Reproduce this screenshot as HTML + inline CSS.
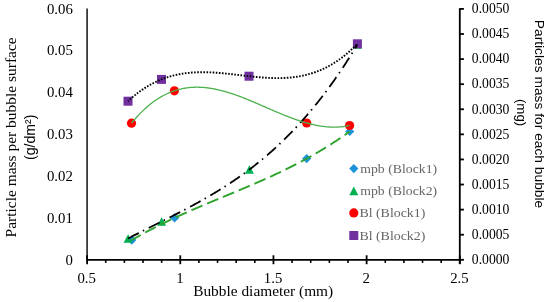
<!DOCTYPE html>
<html><head><meta charset="utf-8"><style>
html,body{margin:0;padding:0;background:#fff;}
body{width:550px;height:302px;overflow:hidden;}
svg{display:block;}
</style></head><body>
<svg width="550" height="302" viewBox="0 0 550 302">
<rect width="550" height="302" fill="#fff"/>
<line x1="86.19999999999999" y1="259.8" x2="460.7" y2="259.8" stroke="#000" stroke-width="1.8"/>
<line x1="87.1" y1="8.6" x2="87.1" y2="259.8" stroke="#3a3a3a" stroke-width="1.8"/>
<line x1="459.8" y1="8.3" x2="459.8" y2="264.1" stroke="#000" stroke-width="1.8"/>
<line x1="87.10" y1="255.3" x2="87.10" y2="264.2" stroke="#000" stroke-width="1.8"/>
<line x1="180.28" y1="255.3" x2="180.28" y2="264.2" stroke="#000" stroke-width="1.8"/>
<line x1="273.45" y1="255.3" x2="273.45" y2="264.2" stroke="#000" stroke-width="1.8"/>
<line x1="366.62" y1="255.3" x2="366.62" y2="264.2" stroke="#000" stroke-width="1.8"/>
<line x1="459.80" y1="255.3" x2="459.80" y2="264.2" stroke="#000" stroke-width="1.8"/>
<line x1="105.73" y1="259.8" x2="105.73" y2="262.90000000000003" stroke="#000" stroke-width="1.6"/>
<line x1="124.37" y1="259.8" x2="124.37" y2="262.90000000000003" stroke="#000" stroke-width="1.6"/>
<line x1="143.00" y1="259.8" x2="143.00" y2="262.90000000000003" stroke="#000" stroke-width="1.6"/>
<line x1="161.64" y1="259.8" x2="161.64" y2="262.90000000000003" stroke="#000" stroke-width="1.6"/>
<line x1="198.91" y1="259.8" x2="198.91" y2="262.90000000000003" stroke="#000" stroke-width="1.6"/>
<line x1="217.55" y1="259.8" x2="217.55" y2="262.90000000000003" stroke="#000" stroke-width="1.6"/>
<line x1="236.18" y1="259.8" x2="236.18" y2="262.90000000000003" stroke="#000" stroke-width="1.6"/>
<line x1="254.81" y1="259.8" x2="254.81" y2="262.90000000000003" stroke="#000" stroke-width="1.6"/>
<line x1="292.09" y1="259.8" x2="292.09" y2="262.90000000000003" stroke="#000" stroke-width="1.6"/>
<line x1="310.72" y1="259.8" x2="310.72" y2="262.90000000000003" stroke="#000" stroke-width="1.6"/>
<line x1="329.36" y1="259.8" x2="329.36" y2="262.90000000000003" stroke="#000" stroke-width="1.6"/>
<line x1="347.99" y1="259.8" x2="347.99" y2="262.90000000000003" stroke="#000" stroke-width="1.6"/>
<line x1="385.26" y1="259.8" x2="385.26" y2="262.90000000000003" stroke="#000" stroke-width="1.6"/>
<line x1="403.90" y1="259.8" x2="403.90" y2="262.90000000000003" stroke="#000" stroke-width="1.6"/>
<line x1="422.53" y1="259.8" x2="422.53" y2="262.90000000000003" stroke="#000" stroke-width="1.6"/>
<line x1="441.17" y1="259.8" x2="441.17" y2="262.90000000000003" stroke="#000" stroke-width="1.6"/>
<line x1="459.8" y1="259.80" x2="463.90000000000003" y2="259.80" stroke="#000" stroke-width="1.8"/>
<line x1="459.8" y1="234.71" x2="463.90000000000003" y2="234.71" stroke="#000" stroke-width="1.8"/>
<line x1="459.8" y1="209.62" x2="463.90000000000003" y2="209.62" stroke="#000" stroke-width="1.8"/>
<line x1="459.8" y1="184.53" x2="463.90000000000003" y2="184.53" stroke="#000" stroke-width="1.8"/>
<line x1="459.8" y1="159.44" x2="463.90000000000003" y2="159.44" stroke="#000" stroke-width="1.8"/>
<line x1="459.8" y1="134.35" x2="463.90000000000003" y2="134.35" stroke="#000" stroke-width="1.8"/>
<line x1="459.8" y1="109.26" x2="463.90000000000003" y2="109.26" stroke="#000" stroke-width="1.8"/>
<line x1="459.8" y1="84.17" x2="463.90000000000003" y2="84.17" stroke="#000" stroke-width="1.8"/>
<line x1="459.8" y1="59.08" x2="463.90000000000003" y2="59.08" stroke="#000" stroke-width="1.8"/>
<line x1="459.8" y1="33.99" x2="463.90000000000003" y2="33.99" stroke="#000" stroke-width="1.8"/>
<line x1="459.8" y1="8.90" x2="463.90000000000003" y2="8.90" stroke="#000" stroke-width="1.8"/>
<text x="72.8" y="264.50" font-family="Liberation Serif, Times New Roman, serif" font-size="14.8" text-anchor="end" fill="#000">0</text>
<text x="72.8" y="222.68" font-family="Liberation Serif, Times New Roman, serif" font-size="14.8" text-anchor="end" fill="#000">0.01</text>
<text x="72.8" y="180.87" font-family="Liberation Serif, Times New Roman, serif" font-size="14.8" text-anchor="end" fill="#000">0.02</text>
<text x="72.8" y="139.05" font-family="Liberation Serif, Times New Roman, serif" font-size="14.8" text-anchor="end" fill="#000">0.03</text>
<text x="72.8" y="97.23" font-family="Liberation Serif, Times New Roman, serif" font-size="14.8" text-anchor="end" fill="#000">0.04</text>
<text x="72.8" y="55.42" font-family="Liberation Serif, Times New Roman, serif" font-size="14.8" text-anchor="end" fill="#000">0.05</text>
<text x="72.8" y="13.60" font-family="Liberation Serif, Times New Roman, serif" font-size="14.8" text-anchor="end" fill="#000">0.06</text>
<text x="471.8" y="264.10" font-family="Liberation Serif, Times New Roman, serif" font-size="14.3" textLength="37.6" lengthAdjust="spacingAndGlyphs" fill="#000">0.0000</text>
<text x="471.8" y="239.01" font-family="Liberation Serif, Times New Roman, serif" font-size="14.3" textLength="37.6" lengthAdjust="spacingAndGlyphs" fill="#000">0.0005</text>
<text x="471.8" y="213.92" font-family="Liberation Serif, Times New Roman, serif" font-size="14.3" textLength="37.6" lengthAdjust="spacingAndGlyphs" fill="#000">0.0010</text>
<text x="471.8" y="188.83" font-family="Liberation Serif, Times New Roman, serif" font-size="14.3" textLength="37.6" lengthAdjust="spacingAndGlyphs" fill="#000">0.0015</text>
<text x="471.8" y="163.74" font-family="Liberation Serif, Times New Roman, serif" font-size="14.3" textLength="37.6" lengthAdjust="spacingAndGlyphs" fill="#000">0.0020</text>
<text x="471.8" y="138.65" font-family="Liberation Serif, Times New Roman, serif" font-size="14.3" textLength="37.6" lengthAdjust="spacingAndGlyphs" fill="#000">0.0025</text>
<text x="471.8" y="113.56" font-family="Liberation Serif, Times New Roman, serif" font-size="14.3" textLength="37.6" lengthAdjust="spacingAndGlyphs" fill="#000">0.0030</text>
<text x="471.8" y="88.47" font-family="Liberation Serif, Times New Roman, serif" font-size="14.3" textLength="37.6" lengthAdjust="spacingAndGlyphs" fill="#000">0.0035</text>
<text x="471.8" y="63.38" font-family="Liberation Serif, Times New Roman, serif" font-size="14.3" textLength="37.6" lengthAdjust="spacingAndGlyphs" fill="#000">0.0040</text>
<text x="471.8" y="38.29" font-family="Liberation Serif, Times New Roman, serif" font-size="14.3" textLength="37.6" lengthAdjust="spacingAndGlyphs" fill="#000">0.0045</text>
<text x="471.8" y="13.20" font-family="Liberation Serif, Times New Roman, serif" font-size="14.3" textLength="37.6" lengthAdjust="spacingAndGlyphs" fill="#000">0.0050</text>
<text x="86.70" y="282.6" font-family="Liberation Serif, Times New Roman, serif" font-size="14.8" text-anchor="middle" fill="#000">0.5</text>
<text x="179.88" y="282.6" font-family="Liberation Serif, Times New Roman, serif" font-size="14.8" text-anchor="middle" fill="#000">1</text>
<text x="273.05" y="282.6" font-family="Liberation Serif, Times New Roman, serif" font-size="14.8" text-anchor="middle" fill="#000">1.5</text>
<text x="366.23" y="282.6" font-family="Liberation Serif, Times New Roman, serif" font-size="14.8" text-anchor="middle" fill="#000">2</text>
<text x="459.40" y="282.6" font-family="Liberation Serif, Times New Roman, serif" font-size="14.8" text-anchor="middle" fill="#000">2.5</text>
<text x="193.2" y="295.6" font-family="Liberation Serif, Times New Roman, serif" font-size="15.2" textLength="140" lengthAdjust="spacingAndGlyphs" fill="#000">Bubble diameter (mm)</text>
<text transform="translate(16.0,137.4) rotate(-90)" x="0" y="0" font-family="Liberation Serif, Times New Roman, serif" font-size="15.4" text-anchor="middle" textLength="200" lengthAdjust="spacingAndGlyphs" fill="#000">Particle mass per bubble surface</text>
<text transform="translate(34.6,137.3) rotate(-90)" x="0" y="0" font-family="Liberation Sans, Arial, sans-serif" font-size="13.8" text-anchor="middle" textLength="45.5" lengthAdjust="spacingAndGlyphs" fill="#000">(g/dm²)</text>
<text transform="translate(535.3,114) rotate(90)" x="0" y="0" font-family="Liberation Sans, Arial, sans-serif" font-size="13.4" text-anchor="middle" textLength="188.5" lengthAdjust="spacingAndGlyphs" fill="#000">Particles mass for each bubble</text>
<text transform="translate(516.8,112.6) rotate(90)" x="0" y="0" font-family="Liberation Sans, Arial, sans-serif" font-size="13.3" text-anchor="middle" fill="#000">(mg)</text>
<path d="M127.20,240.10 L131.80,235.50 L136.40,240.10 L131.80,244.70 Z" fill="#1e93d9"/>
<path d="M170.00,217.90 L174.60,213.30 L179.20,217.90 L174.60,222.50 Z" fill="#1e93d9"/>
<path d="M302.10,158.60 L306.70,154.00 L311.30,158.60 L306.70,163.20 Z" fill="#1e93d9"/>
<path d="M345.10,131.50 L349.70,126.90 L354.30,131.50 L349.70,136.10 Z" fill="#1e93d9"/>
<path d="M128.10,234.20 L132.60,242.80 L123.60,242.80 Z" fill="#00b050"/>
<path d="M161.60,217.20 L166.10,225.80 L157.10,225.80 Z" fill="#00b050"/>
<path d="M249.40,165.20 L253.90,173.80 L244.90,173.80 Z" fill="#00b050"/>
<path d="M357.40,40.20 L361.90,48.80 L352.90,48.80 Z" fill="#00b050"/>
<circle cx="131.50" cy="123.20" r="4.6" fill="#ff0000"/>
<circle cx="174.40" cy="90.80" r="4.6" fill="#ff0000"/>
<circle cx="306.70" cy="123.00" r="4.6" fill="#ff0000"/>
<circle cx="349.60" cy="125.50" r="4.6" fill="#ff0000"/>
<rect x="123.50" y="96.70" width="9.0" height="9.0" fill="#7030a0"/>
<rect x="157.00" y="74.90" width="9.0" height="9.0" fill="#7030a0"/>
<rect x="244.50" y="71.70" width="9.0" height="9.0" fill="#7030a0"/>
<rect x="352.90" y="39.30" width="9.0" height="9.0" fill="#7030a0"/>
<path d="M131.80,240.10 L132.80,239.52 L133.80,238.94 L134.80,238.36 L135.80,237.79 L136.80,237.22 L137.80,236.65 L138.80,236.09 L139.80,235.53 L140.80,234.98 L141.80,234.43 L142.80,233.88 L143.80,233.33 L144.80,232.79 L145.80,232.25 L146.80,231.71 L147.80,231.18 L148.80,230.65 L149.80,230.12 L150.80,229.60 L151.80,229.08 L152.80,228.56 L153.80,228.05 L154.80,227.53 L155.80,227.02 L156.80,226.52 L157.80,226.01 L158.80,225.51 L159.80,225.01 L160.80,224.51 L161.80,224.02 L162.80,223.53 L163.80,223.04 L164.80,222.55 L165.80,222.07 L166.80,221.59 L167.80,221.11 L168.80,220.63 L169.80,220.15 L170.80,219.68 L171.80,219.21 L172.80,218.74 L173.80,218.27 L174.80,217.81 L175.80,217.34 L176.80,216.88 L177.80,216.42 L178.80,215.97 L179.80,215.51 L180.80,215.06 L181.80,214.61 L182.80,214.15 L183.80,213.71 L184.80,213.26 L185.80,212.81 L186.80,212.37 L187.80,211.93 L188.80,211.49 L189.80,211.05 L190.80,210.61 L191.80,210.17 L192.80,209.74 L193.80,209.30 L194.80,208.87 L195.80,208.44 L196.80,208.00 L197.80,207.58 L198.80,207.15 L199.80,206.72 L200.80,206.29 L201.80,205.87 L202.80,205.44 L203.80,205.02 L204.80,204.59 L205.80,204.17 L206.80,203.75 L207.80,203.33 L208.80,202.91 L209.80,202.49 L210.80,202.07 L211.80,201.65 L212.80,201.23 L213.80,200.82 L214.80,200.40 L215.80,199.98 L216.80,199.57 L217.80,199.15 L218.80,198.73 L219.80,198.32 L220.80,197.90 L221.80,197.49 L222.80,197.07 L223.80,196.66 L224.80,196.24 L225.80,195.83 L226.80,195.41 L227.80,195.00 L228.80,194.58 L229.80,194.17 L230.80,193.75 L231.80,193.33 L232.80,192.92 L233.80,192.50 L234.80,192.08 L235.80,191.67 L236.80,191.25 L237.80,190.83 L238.80,190.41 L239.80,189.99 L240.80,189.57 L241.80,189.15 L242.80,188.73 L243.80,188.31 L244.80,187.89 L245.80,187.46 L246.80,187.04 L247.80,186.61 L248.80,186.19 L249.80,185.76 L250.80,185.33 L251.80,184.90 L252.80,184.47 L253.80,184.04 L254.80,183.61 L255.80,183.17 L256.80,182.74 L257.80,182.30 L258.80,181.87 L259.80,181.43 L260.80,180.99 L261.80,180.54 L262.80,180.10 L263.80,179.66 L264.80,179.21 L265.80,178.76 L266.80,178.31 L267.80,177.86 L268.80,177.41 L269.80,176.95 L270.80,176.50 L271.80,176.04 L272.80,175.58 L273.80,175.12 L274.80,174.65 L275.80,174.19 L276.80,173.72 L277.80,173.25 L278.80,172.78 L279.80,172.30 L280.80,171.83 L281.80,171.35 L282.80,170.87 L283.80,170.38 L284.80,169.90 L285.80,169.41 L286.80,168.92 L287.80,168.43 L288.80,167.93 L289.80,167.43 L290.80,166.93 L291.80,166.43 L292.80,165.93 L293.80,165.42 L294.80,164.91 L295.80,164.39 L296.80,163.88 L297.80,163.36 L298.80,162.83 L299.80,162.31 L300.80,161.78 L301.80,161.25 L302.80,160.71 L303.80,160.18 L304.80,159.64 L305.80,159.09 L306.80,158.55 L307.80,157.99 L308.80,157.44 L309.80,156.88 L310.80,156.32 L311.80,155.76 L312.80,155.19 L313.80,154.62 L314.80,154.05 L315.80,153.47 L316.80,152.89 L317.80,152.30 L318.80,151.72 L319.80,151.12 L320.80,150.53 L321.80,149.93 L322.80,149.32 L323.80,148.72 L324.80,148.11 L325.80,147.49 L326.80,146.87 L327.80,146.25 L328.80,145.62 L329.80,144.99 L330.80,144.35 L331.80,143.71 L332.80,143.07 L333.80,142.42 L334.80,141.77 L335.80,141.11 L336.80,140.45 L337.80,139.78 L338.80,139.11 L339.80,138.44 L340.80,137.76 L341.80,137.07 L342.80,136.38 L343.80,135.69 L344.80,134.99 L345.80,134.29 L346.80,133.58 L347.80,132.87 L348.80,132.15 L349.70,131.50" fill="none" stroke="#2ea32e" stroke-width="1.9" stroke-dasharray="12 5.1" stroke-dashoffset="1.7"/>
<path d="M128.10,238.50 L129.10,237.98 L130.10,237.46 L131.10,236.94 L132.10,236.42 L133.10,235.90 L134.10,235.39 L135.10,234.88 L136.10,234.36 L137.10,233.85 L138.10,233.34 L139.10,232.83 L140.10,232.32 L141.10,231.81 L142.10,231.31 L143.10,230.80 L144.10,230.30 L145.10,229.79 L146.10,229.29 L147.10,228.78 L148.10,228.28 L149.10,227.78 L150.10,227.27 L151.10,226.77 L152.10,226.27 L153.10,225.77 L154.10,225.27 L155.10,224.76 L156.10,224.26 L157.10,223.76 L158.10,223.26 L159.10,222.76 L160.10,222.25 L161.10,221.75 L162.10,221.25 L163.10,220.75 L164.10,220.24 L165.10,219.74 L166.10,219.23 L167.10,218.73 L168.10,218.22 L169.10,217.71 L170.10,217.21 L171.10,216.70 L172.10,216.19 L173.10,215.68 L174.10,215.17 L175.10,214.66 L176.10,214.14 L177.10,213.63 L178.10,213.11 L179.10,212.59 L180.10,212.08 L181.10,211.56 L182.10,211.03 L183.10,210.51 L184.10,209.99 L185.10,209.46 L186.10,208.93 L187.10,208.40 L188.10,207.87 L189.10,207.34 L190.10,206.80 L191.10,206.26 L192.10,205.72 L193.10,205.18 L194.10,204.64 L195.10,204.09 L196.10,203.55 L197.10,202.99 L198.10,202.44 L199.10,201.89 L200.10,201.33 L201.10,200.77 L202.10,200.21 L203.10,199.64 L204.10,199.07 L205.10,198.50 L206.10,197.93 L207.10,197.35 L208.10,196.77 L209.10,196.19 L210.10,195.60 L211.10,195.01 L212.10,194.42 L213.10,193.82 L214.10,193.22 L215.10,192.62 L216.10,192.01 L217.10,191.40 L218.10,190.79 L219.10,190.18 L220.10,189.56 L221.10,188.93 L222.10,188.30 L223.10,187.67 L224.10,187.04 L225.10,186.40 L226.10,185.76 L227.10,185.11 L228.10,184.46 L229.10,183.80 L230.10,183.14 L231.10,182.48 L232.10,181.81 L233.10,181.14 L234.10,180.46 L235.10,179.78 L236.10,179.09 L237.10,178.40 L238.10,177.70 L239.10,177.00 L240.10,176.30 L241.10,175.59 L242.10,174.87 L243.10,174.15 L244.10,173.43 L245.10,172.70 L246.10,171.96 L247.10,171.22 L248.10,170.48 L249.10,169.73 L250.10,168.97 L251.10,168.21 L252.10,167.44 L253.10,166.67 L254.10,165.89 L255.10,165.11 L256.10,164.32 L257.10,163.52 L258.10,162.72 L259.10,161.91 L260.10,161.10 L261.10,160.28 L262.10,159.45 L263.10,158.62 L264.10,157.79 L265.10,156.94 L266.10,156.09 L267.10,155.24 L268.10,154.37 L269.10,153.50 L270.10,152.63 L271.10,151.75 L272.10,150.86 L273.10,149.96 L274.10,149.06 L275.10,148.15 L276.10,147.23 L277.10,146.31 L278.10,145.38 L279.10,144.44 L280.10,143.50 L281.10,142.55 L282.10,141.59 L283.10,140.62 L284.10,139.65 L285.10,138.67 L286.10,137.68 L287.10,136.69 L288.10,135.69 L289.10,134.68 L290.10,133.66 L291.10,132.63 L292.10,131.60 L293.10,130.56 L294.10,129.51 L295.10,128.45 L296.10,127.38 L297.10,126.31 L298.10,125.23 L299.10,124.14 L300.10,123.04 L301.10,121.94 L302.10,120.82 L303.10,119.70 L304.10,118.57 L305.10,117.43 L306.10,116.28 L307.10,115.12 L308.10,113.96 L309.10,112.78 L310.10,111.60 L311.10,110.41 L312.10,109.21 L313.10,108.00 L314.10,106.78 L315.10,105.55 L316.10,104.31 L317.10,103.07 L318.10,101.81 L319.10,100.54 L320.10,99.27 L321.10,97.99 L322.10,96.69 L323.10,95.39 L324.10,94.08 L325.10,92.76 L326.10,91.42 L327.10,90.08 L328.10,88.73 L329.10,87.37 L330.10,86.00 L331.10,84.62 L332.10,83.22 L333.10,81.82 L334.10,80.41 L335.10,78.99 L336.10,77.56 L337.10,76.11 L338.10,74.66 L339.10,73.20 L340.10,71.72 L341.10,70.24 L342.10,68.74 L343.10,67.24 L344.10,65.72 L345.10,64.19 L346.10,62.66 L347.10,61.11 L348.10,59.55 L349.10,57.98 L350.10,56.39 L351.10,54.80 L352.10,53.19 L353.10,51.58 L354.10,49.95 L355.10,48.31 L356.10,46.66 L357.10,45.00 L357.40,44.50" fill="none" stroke="#000" stroke-width="1.8" stroke-dasharray="12 4.6 1.5 5.1"/>
<path d="M131.50,123.20 L132.50,121.98 L133.50,120.78 L134.50,119.61 L135.50,118.47 L136.50,117.34 L137.50,116.25 L138.50,115.17 L139.50,114.12 L140.50,113.09 L141.50,112.09 L142.50,111.11 L143.50,110.15 L144.50,109.21 L145.50,108.30 L146.50,107.41 L147.50,106.54 L148.50,105.69 L149.50,104.87 L150.50,104.06 L151.50,103.28 L152.50,102.52 L153.50,101.78 L154.50,101.06 L155.50,100.36 L156.50,99.69 L157.50,99.03 L158.50,98.39 L159.50,97.77 L160.50,97.17 L161.50,96.60 L162.50,96.04 L163.50,95.50 L164.50,94.98 L165.50,94.47 L166.50,93.99 L167.50,93.52 L168.50,93.08 L169.50,92.65 L170.50,92.24 L171.50,91.84 L172.50,91.47 L173.50,91.11 L174.50,90.77 L175.50,90.44 L176.50,90.13 L177.50,89.84 L178.50,89.57 L179.50,89.31 L180.50,89.07 L181.50,88.84 L182.50,88.63 L183.50,88.43 L184.50,88.25 L185.50,88.08 L186.50,87.93 L187.50,87.80 L188.50,87.68 L189.50,87.57 L190.50,87.47 L191.50,87.40 L192.50,87.33 L193.50,87.28 L194.50,87.24 L195.50,87.21 L196.50,87.20 L197.50,87.20 L198.50,87.21 L199.50,87.24 L200.50,87.28 L201.50,87.33 L202.50,87.39 L203.50,87.46 L204.50,87.55 L205.50,87.64 L206.50,87.75 L207.50,87.87 L208.50,88.00 L209.50,88.14 L210.50,88.29 L211.50,88.45 L212.50,88.62 L213.50,88.80 L214.50,88.99 L215.50,89.19 L216.50,89.40 L217.50,89.62 L218.50,89.85 L219.50,90.08 L220.50,90.33 L221.50,90.58 L222.50,90.84 L223.50,91.11 L224.50,91.38 L225.50,91.67 L226.50,91.96 L227.50,92.26 L228.50,92.57 L229.50,92.88 L230.50,93.20 L231.50,93.52 L232.50,93.86 L233.50,94.20 L234.50,94.54 L235.50,94.89 L236.50,95.25 L237.50,95.61 L238.50,95.97 L239.50,96.35 L240.50,96.72 L241.50,97.10 L242.50,97.49 L243.50,97.88 L244.50,98.27 L245.50,98.67 L246.50,99.07 L247.50,99.48 L248.50,99.88 L249.50,100.30 L250.50,100.71 L251.50,101.13 L252.50,101.55 L253.50,101.97 L254.50,102.39 L255.50,102.82 L256.50,103.25 L257.50,103.68 L258.50,104.11 L259.50,104.54 L260.50,104.98 L261.50,105.41 L262.50,105.85 L263.50,106.29 L264.50,106.72 L265.50,107.16 L266.50,107.60 L267.50,108.03 L268.50,108.47 L269.50,108.91 L270.50,109.34 L271.50,109.77 L272.50,110.21 L273.50,110.64 L274.50,111.07 L275.50,111.50 L276.50,111.92 L277.50,112.35 L278.50,112.77 L279.50,113.19 L280.50,113.61 L281.50,114.02 L282.50,114.44 L283.50,114.84 L284.50,115.25 L285.50,115.65 L286.50,116.05 L287.50,116.44 L288.50,116.83 L289.50,117.22 L290.50,117.60 L291.50,117.98 L292.50,118.35 L293.50,118.72 L294.50,119.08 L295.50,119.43 L296.50,119.78 L297.50,120.13 L298.50,120.47 L299.50,120.80 L300.50,121.13 L301.50,121.45 L302.50,121.76 L303.50,122.07 L304.50,122.37 L305.50,122.66 L306.50,122.94 L307.50,123.22 L308.50,123.49 L309.50,123.75 L310.50,124.00 L311.50,124.25 L312.50,124.49 L313.50,124.71 L314.50,124.93 L315.50,125.14 L316.50,125.34 L317.50,125.53 L318.50,125.71 L319.50,125.88 L320.50,126.05 L321.50,126.20 L322.50,126.34 L323.50,126.47 L324.50,126.59 L325.50,126.70 L326.50,126.79 L327.50,126.88 L328.50,126.95 L329.50,127.01 L330.50,127.07 L331.50,127.10 L332.50,127.13 L333.50,127.14 L334.50,127.15 L335.50,127.13 L336.50,127.11 L337.50,127.07 L338.50,127.02 L339.50,126.96 L340.50,126.88 L341.50,126.78 L342.50,126.68 L343.50,126.56 L344.50,126.42 L345.50,126.27 L346.50,126.11 L347.50,125.93 L348.50,125.73 L349.50,125.52 L349.60,125.50" fill="none" stroke="#4cb04c" stroke-width="1.3"/>
<path d="M128.00,101.20 L129.00,100.28 L130.00,99.37 L131.00,98.48 L132.00,97.61 L133.00,96.76 L134.00,95.93 L135.00,95.11 L136.00,94.31 L137.00,93.53 L138.00,92.77 L139.00,92.02 L140.00,91.30 L141.00,90.58 L142.00,89.89 L143.00,89.21 L144.00,88.54 L145.00,87.90 L146.00,87.27 L147.00,86.65 L148.00,86.05 L149.00,85.47 L150.00,84.90 L151.00,84.35 L152.00,83.81 L153.00,83.28 L154.00,82.77 L155.00,82.28 L156.00,81.80 L157.00,81.33 L158.00,80.88 L159.00,80.44 L160.00,80.01 L161.00,79.60 L162.00,79.20 L163.00,78.82 L164.00,78.44 L165.00,78.08 L166.00,77.74 L167.00,77.40 L168.00,77.08 L169.00,76.77 L170.00,76.47 L171.00,76.18 L172.00,75.91 L173.00,75.64 L174.00,75.39 L175.00,75.15 L176.00,74.92 L177.00,74.70 L178.00,74.49 L179.00,74.29 L180.00,74.10 L181.00,73.92 L182.00,73.75 L183.00,73.59 L184.00,73.44 L185.00,73.30 L186.00,73.17 L187.00,73.05 L188.00,72.94 L189.00,72.83 L190.00,72.74 L191.00,72.65 L192.00,72.57 L193.00,72.50 L194.00,72.44 L195.00,72.38 L196.00,72.33 L197.00,72.29 L198.00,72.26 L199.00,72.23 L200.00,72.21 L201.00,72.20 L202.00,72.20 L203.00,72.20 L204.00,72.20 L205.00,72.22 L206.00,72.23 L207.00,72.26 L208.00,72.29 L209.00,72.32 L210.00,72.36 L211.00,72.41 L212.00,72.46 L213.00,72.51 L214.00,72.57 L215.00,72.64 L216.00,72.70 L217.00,72.78 L218.00,72.85 L219.00,72.93 L220.00,73.01 L221.00,73.10 L222.00,73.19 L223.00,73.28 L224.00,73.38 L225.00,73.48 L226.00,73.58 L227.00,73.68 L228.00,73.78 L229.00,73.89 L230.00,74.00 L231.00,74.11 L232.00,74.22 L233.00,74.34 L234.00,74.45 L235.00,74.57 L236.00,74.68 L237.00,74.80 L238.00,74.92 L239.00,75.04 L240.00,75.16 L241.00,75.27 L242.00,75.39 L243.00,75.51 L244.00,75.63 L245.00,75.74 L246.00,75.86 L247.00,75.97 L248.00,76.09 L249.00,76.20 L250.00,76.31 L251.00,76.42 L252.00,76.53 L253.00,76.63 L254.00,76.74 L255.00,76.84 L256.00,76.93 L257.00,77.03 L258.00,77.12 L259.00,77.21 L260.00,77.30 L261.00,77.38 L262.00,77.46 L263.00,77.54 L264.00,77.61 L265.00,77.68 L266.00,77.74 L267.00,77.80 L268.00,77.85 L269.00,77.90 L270.00,77.95 L271.00,77.99 L272.00,78.03 L273.00,78.05 L274.00,78.08 L275.00,78.10 L276.00,78.11 L277.00,78.12 L278.00,78.12 L279.00,78.11 L280.00,78.10 L281.00,78.08 L282.00,78.05 L283.00,78.02 L284.00,77.98 L285.00,77.93 L286.00,77.88 L287.00,77.81 L288.00,77.74 L289.00,77.66 L290.00,77.58 L291.00,77.48 L292.00,77.38 L293.00,77.26 L294.00,77.14 L295.00,77.01 L296.00,76.87 L297.00,76.72 L298.00,76.56 L299.00,76.39 L300.00,76.21 L301.00,76.03 L302.00,75.83 L303.00,75.62 L304.00,75.40 L305.00,75.17 L306.00,74.92 L307.00,74.67 L308.00,74.41 L309.00,74.13 L310.00,73.85 L311.00,73.55 L312.00,73.24 L313.00,72.91 L314.00,72.58 L315.00,72.23 L316.00,71.87 L317.00,71.50 L318.00,71.11 L319.00,70.72 L320.00,70.30 L321.00,69.88 L322.00,69.44 L323.00,68.99 L324.00,68.52 L325.00,68.04 L326.00,67.54 L327.00,67.04 L328.00,66.51 L329.00,65.97 L330.00,65.42 L331.00,64.85 L332.00,64.27 L333.00,63.67 L334.00,63.05 L335.00,62.42 L336.00,61.77 L337.00,61.11 L338.00,60.43 L339.00,59.74 L340.00,59.02 L341.00,58.30 L342.00,57.55 L343.00,56.79 L344.00,56.01 L345.00,55.21 L346.00,54.39 L347.00,53.56 L348.00,52.71 L349.00,51.84 L350.00,50.95 L351.00,50.05 L352.00,49.12 L353.00,48.18 L354.00,47.22 L355.00,46.23 L356.00,45.23 L357.00,44.21 L357.40,43.80" fill="none" stroke="#000" stroke-width="1.9" stroke-dasharray="1.6 1.5" stroke-dashoffset="0.7"/>
<path d="M349.20,168.60 L353.80,164.00 L358.40,168.60 L353.80,173.20 Z" fill="#1e93d9"/>
<text x="360.3" y="173.0" font-family="Liberation Serif, Times New Roman, serif" font-size="13.2" textLength="76.8" lengthAdjust="spacingAndGlyphs" fill="#666666">mpb (Block1)</text>
<path d="M353.80,186.60 L358.30,195.20 L349.30,195.20 Z" fill="#00b050"/>
<text x="360.3" y="195.1" font-family="Liberation Serif, Times New Roman, serif" font-size="13.2" textLength="76.8" lengthAdjust="spacingAndGlyphs" fill="#666666">mpb (Block2)</text>
<circle cx="353.80" cy="212.90" r="4.6" fill="#ff0000"/>
<text x="359.4" y="217.4" font-family="Liberation Serif, Times New Roman, serif" font-size="13.2" textLength="66" lengthAdjust="spacingAndGlyphs" fill="#666666">Bl (Block1)</text>
<rect x="349.30" y="231.00" width="9.0" height="9.0" fill="#7030a0"/>
<text x="359.4" y="239.5" font-family="Liberation Serif, Times New Roman, serif" font-size="13.2" textLength="66" lengthAdjust="spacingAndGlyphs" fill="#666666">Bl (Block2)</text>
</svg>
</body></html>
